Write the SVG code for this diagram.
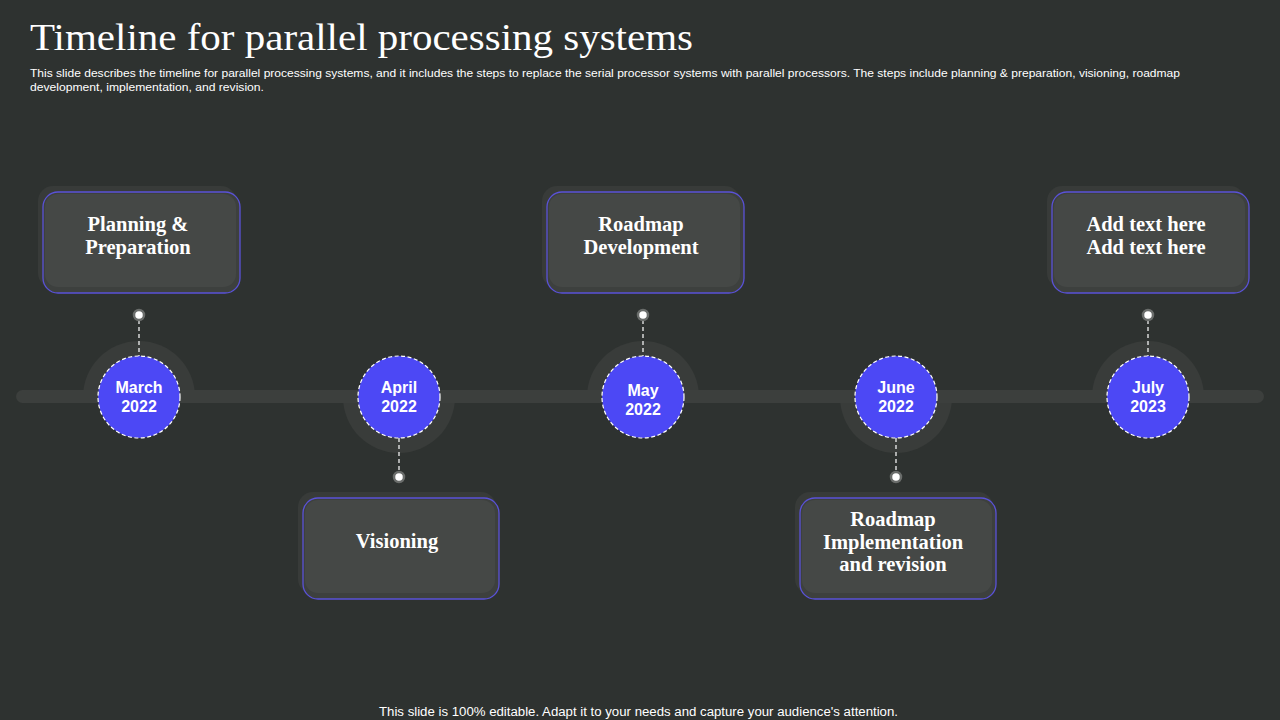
<svg xmlns="http://www.w3.org/2000/svg" width="1280" height="720" viewBox="0 0 1280 720">
<style>
.bg{fill:#2e3230}
.title{font-family:"Liberation Serif",serif;font-size:37px;fill:#ffffff}
.sub{font-family:"Liberation Sans",Arial,sans-serif;font-size:11px;fill:#ffffff}
.foot{font-family:"Liberation Sans",Arial,sans-serif;font-size:12.5px;fill:#ffffff}
.shadow{fill:#383b39}
.box{fill:#3d403e;stroke:#5a52d8;stroke-width:1.3}
.inner{fill:#454846}
.btxt{font-family:"Liberation Serif",serif;font-weight:bold;font-size:20.5px;fill:#ffffff;text-anchor:middle}
.halo{fill:#393c3a}
.bar{fill:#3c3f3d}
.date{fill:#4c48f5;stroke:#ffffff;stroke-width:1.2;stroke-dasharray:4 2.5}
.dtxt{font-family:"Liberation Sans",Arial,sans-serif;font-weight:bold;font-size:16px;fill:#ffffff;text-anchor:middle}
.conn{stroke:#ffffff;stroke-width:1.2;stroke-dasharray:4 3;fill:none}
.dot{fill:#ffffff;stroke:#6a6d6b;stroke-width:2.5}
</style>
<rect class="bg" x="0" y="0" width="1280" height="720"/>
<text class="title" x="30" y="50" textLength="663" lengthAdjust="spacingAndGlyphs">Timeline for parallel processing systems</text>
<text class="sub" x="30" y="77" textLength="1150" lengthAdjust="spacingAndGlyphs">This slide describes the timeline for parallel processing systems, and it includes the steps to replace the serial processor systems with parallel processors. The steps include planning &amp; preparation, visioning, roadmap</text>
<text class="sub" x="30" y="91" textLength="234" lengthAdjust="spacingAndGlyphs">development, implementation, and revision.</text>

<g id="timeline">
<path class="halo" d="M83 397 A56 56 0 0 1 195 397 Z"/>
<path class="halo" d="M343 397 A56 56 0 0 0 455 397 Z"/>
<path class="halo" d="M587 397 A56 56 0 0 1 699 397 Z"/>
<path class="halo" d="M840 397 A56 56 0 0 0 952 397 Z"/>
<path class="halo" d="M1092 397 A56 56 0 0 1 1204 397 Z"/>
<rect class="bar" x="16" y="390" width="1248" height="13" rx="6.5"/>
</g>

<g id="connectors">
<line class="conn" x1="139" y1="320" x2="139" y2="356"/>
<line class="conn" x1="399" y1="438" x2="399" y2="472"/>
<line class="conn" x1="643" y1="320" x2="643" y2="356"/>
<line class="conn" x1="896" y1="438" x2="896" y2="472"/>
<line class="conn" x1="1148" y1="320" x2="1148" y2="356"/>
<circle class="dot" cx="139" cy="315" r="5"/>
<circle class="dot" cx="399" cy="477" r="5"/>
<circle class="dot" cx="643" cy="315" r="5"/>
<circle class="dot" cx="896" cy="477" r="5"/>
<circle class="dot" cx="1148" cy="315" r="5"/>
</g>

<g id="date-march">
<circle class="date" cx="139" cy="397" r="41"/>
<text class="dtxt" x="139" y="393">March</text>
<text class="dtxt" x="139" y="412">2022</text>
</g>
<g id="date-april">
<circle class="date" cx="399" cy="397" r="41"/>
<text class="dtxt" x="399" y="393">April</text>
<text class="dtxt" x="399" y="412">2022</text>
</g>
<g id="date-may">
<circle class="date" cx="643" cy="397" r="41"/>
<text class="dtxt" x="643" y="396">May</text>
<text class="dtxt" x="643" y="415">2022</text>
</g>
<g id="date-june">
<circle class="date" cx="896" cy="397" r="41"/>
<text class="dtxt" x="896" y="393">June</text>
<text class="dtxt" x="896" y="412">2022</text>
</g>
<g id="date-july">
<circle class="date" cx="1148" cy="397" r="41"/>
<text class="dtxt" x="1148" y="393">July</text>
<text class="dtxt" x="1148" y="412">2023</text>
</g>

<g id="box-planning">
<rect class="shadow" x="38" y="186" width="198" height="102" rx="15"/>
<rect class="box" x="43" y="192" width="197" height="101" rx="15"/>
<rect class="inner" x="45" y="194" width="191" height="93" rx="13"/>
<text class="btxt" x="138" y="231">Planning &amp;</text>
<text class="btxt" x="138" y="254">Preparation</text>
</g>
<g id="box-roadmap-dev">
<rect class="shadow" x="542" y="186" width="198" height="102" rx="15"/>
<rect class="box" x="547" y="192" width="197" height="101" rx="15"/>
<rect class="inner" x="549" y="194" width="191" height="93" rx="13"/>
<text class="btxt" x="641" y="231">Roadmap</text>
<text class="btxt" x="641" y="254">Development</text>
</g>
<g id="box-add-text">
<rect class="shadow" x="1047" y="186" width="198" height="102" rx="15"/>
<rect class="box" x="1052" y="192" width="197" height="101" rx="15"/>
<rect class="inner" x="1054" y="194" width="191" height="93" rx="13"/>
<text class="btxt" x="1146" y="231">Add text here</text>
<text class="btxt" x="1146" y="254">Add text here</text>
</g>
<g id="box-visioning">
<rect class="shadow" x="298" y="492" width="198" height="102" rx="15"/>
<rect class="box" x="303" y="498" width="196" height="101" rx="15"/>
<rect class="inner" x="305" y="500" width="190" height="93" rx="13"/>
<text class="btxt" x="397" y="548">Visioning</text>
</g>
<g id="box-roadmap-impl">
<rect class="shadow" x="795" y="492" width="198" height="102" rx="15"/>
<rect class="box" x="800" y="498" width="196" height="101" rx="15"/>
<rect class="inner" x="802" y="500" width="190" height="93" rx="13"/>
<text class="btxt" x="893" y="526">Roadmap</text>
<text class="btxt" x="893" y="549">Implementation</text>
<text class="btxt" x="893" y="571">and revision</text>
</g>

<text class="foot" x="379" y="716" textLength="519" lengthAdjust="spacingAndGlyphs">This slide is 100% editable. Adapt it to your needs and capture your audience's attention.</text>
</svg>
